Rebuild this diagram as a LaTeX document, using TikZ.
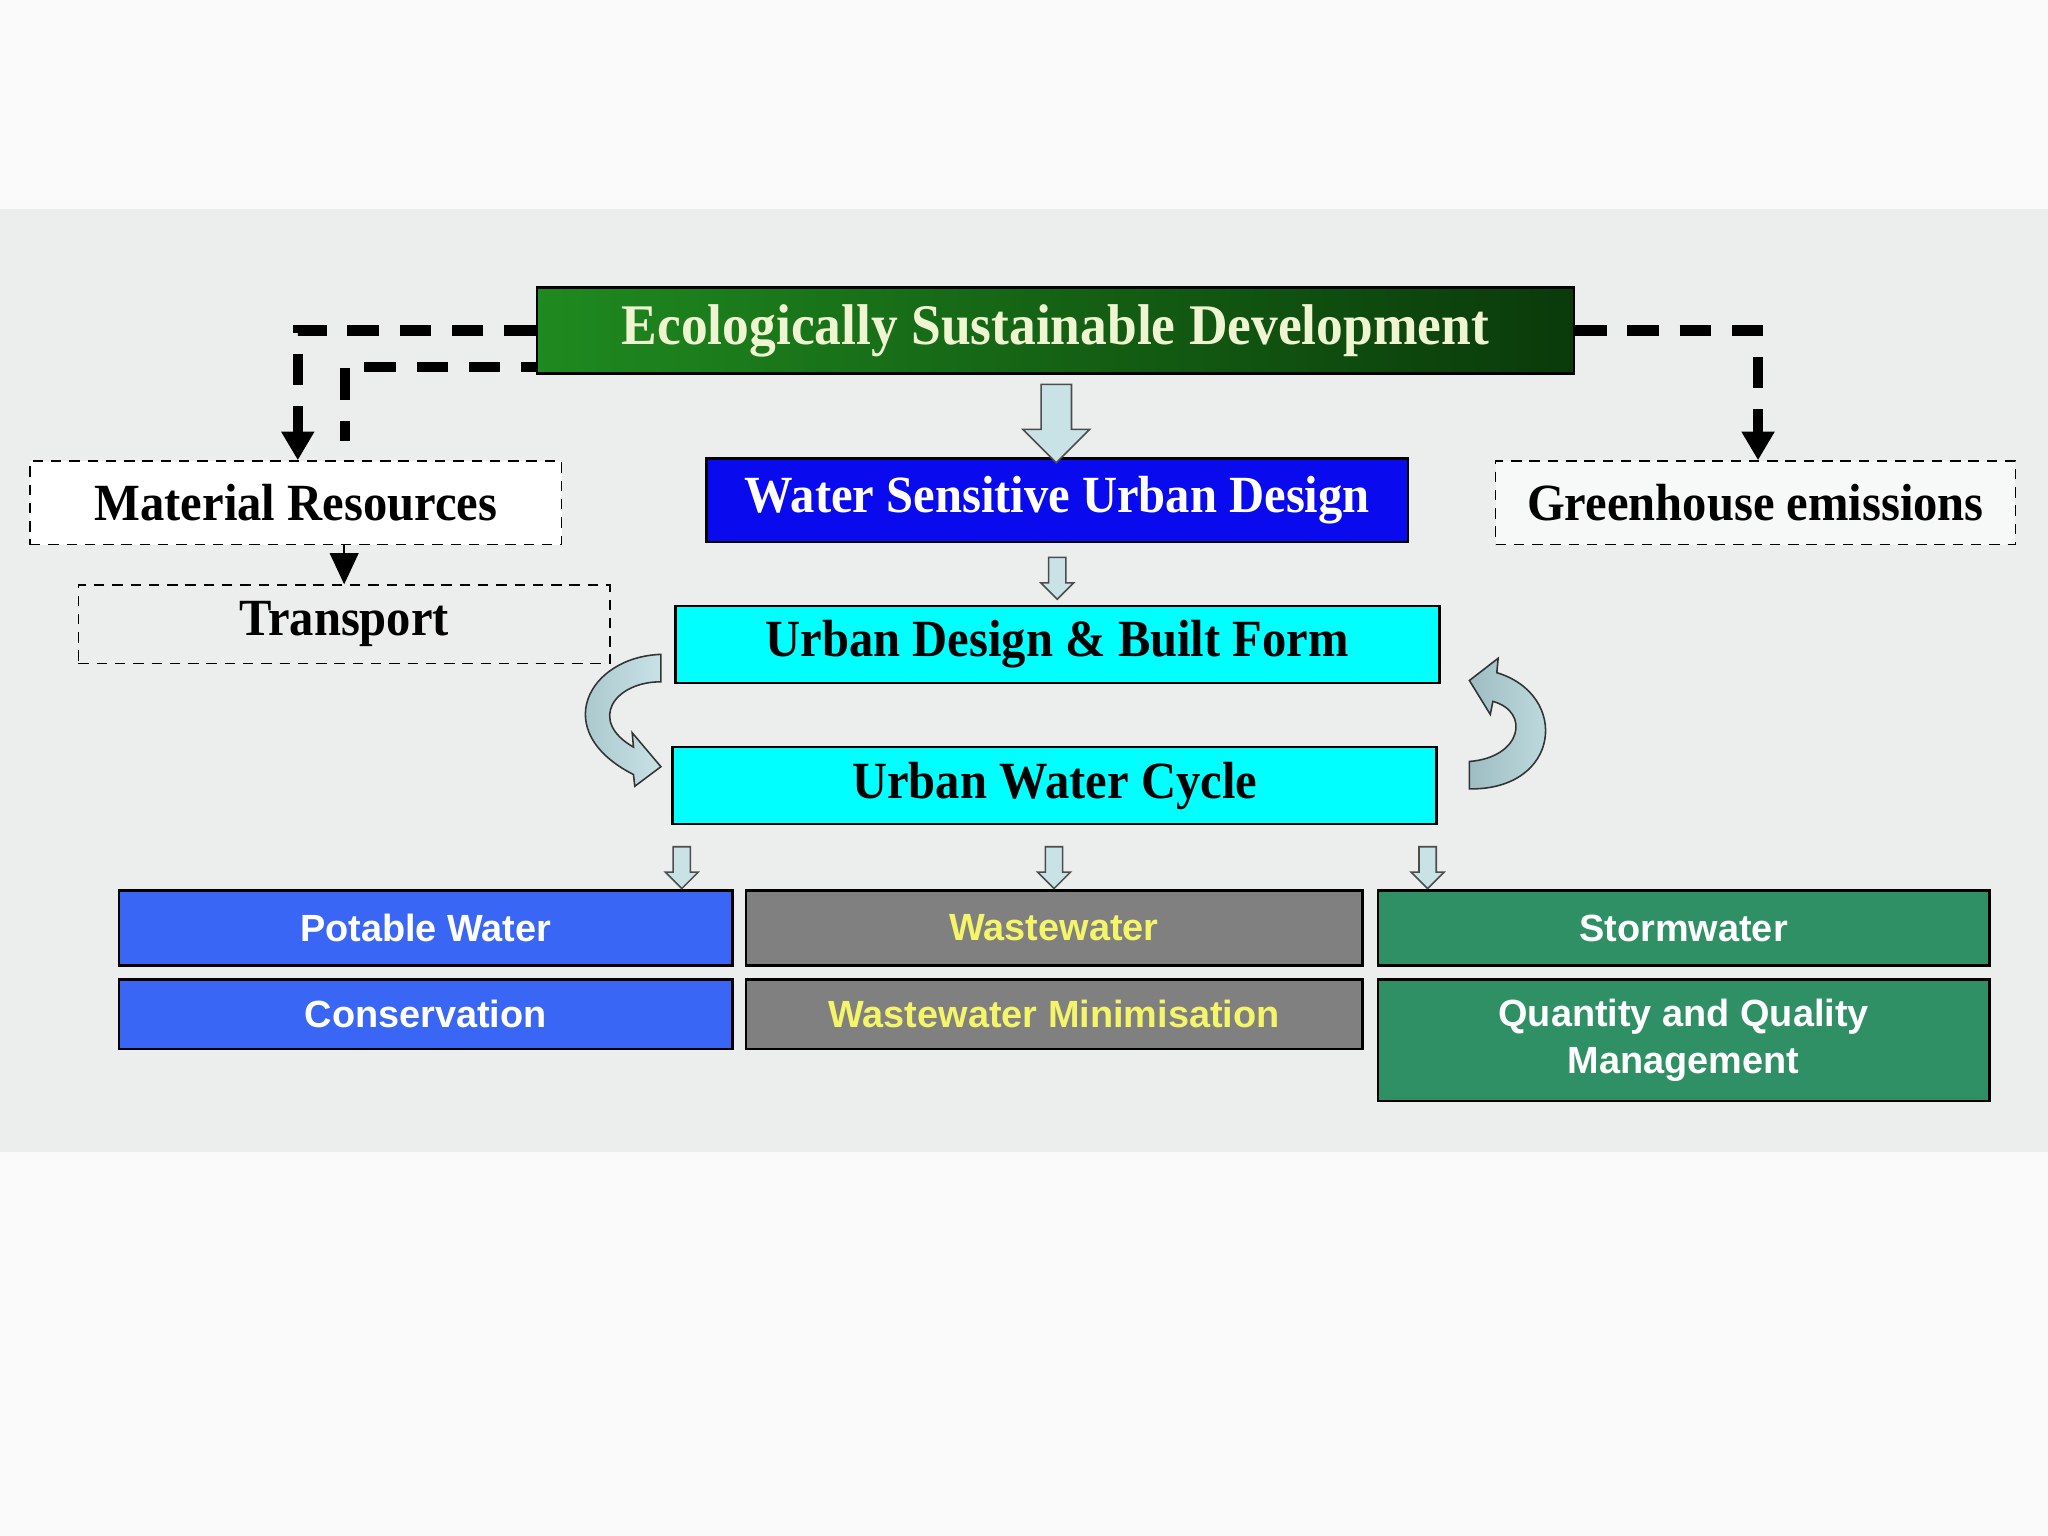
\documentclass[tikz,border=0pt]{standalone}
\usepackage{fontspec}
\setmainfont{Liberation Serif}
\newfontfamily\sansf{Liberation Sans}
\usetikzlibrary{shapes.arrows,arrows.meta,calc}
\definecolor{bgband}{HTML}{ECEEEE}
\definecolor{esdL}{HTML}{1F8A1F}
\definecolor{esdR}{HTML}{0A3A0A}
\definecolor{esdT}{HTML}{EEF5D0}
\definecolor{wsud}{HTML}{0A0AEE}
\definecolor{aqua}{HTML}{00FFFF}
\definecolor{potable}{HTML}{3A66F5}
\definecolor{wgrey}{HTML}{808080}
\definecolor{storm}{HTML}{2F9065}
\definecolor{wyellow}{HTML}{F5F56A}
\definecolor{arrfill}{HTML}{C8E2E6}
\definecolor{arrdark}{HTML}{9DBDC2}
\newcommand{\cond}[1]{\scalebox{0.93}[1]{#1}}
\tikzset{
  box/.style={draw=black, line width=1pt, inner sep=0pt, align=center},
  serif/.style={font=\fontsize{20}{24}\selectfont\bfseries},
  sansl/.style={font=\sansf\fontsize{14.5}{18}\selectfont\bfseries},
  dbox/.style={draw=black, dashed, line width=0.6pt, dash pattern=on 4pt off 3pt, inner sep=0pt, serif},
  bigarr/.style={single arrow, draw=black!70, fill=arrfill, line width=0.6pt, shape border rotate=270,
     minimum height=30pt, minimum width=25pt, inner sep=5.5pt, single arrow head extend=7pt},
  smallarr/.style={single arrow, draw=black!70, fill=arrfill, line width=0.6pt, shape border rotate=270,
     minimum height=16pt, minimum width=12pt, inner sep=3pt, single arrow head extend=3pt},
  thickdash/.style={line width=4pt, dash pattern=on 12pt off 8pt},
  curv/.style={draw=black!80, line width=0.6pt, left color=arrdark, right color=arrfill},
}
\begin{document}
\begin{tikzpicture}[x=0.5pt,y=-0.5pt]
\useasboundingbox (0,0) rectangle (1568,1176);
\fill[white!98!black] (0,0) rectangle (1568,1176);
\fill[bgband] (0,160) rectangle (1568,882);
% nodes
\node[box, minimum width=397pt, minimum height=33pt, left color=esdL, right color=esdR, text=esdT,
  font=\fontsize{22}{26}\selectfont\bfseries] (esd) at (808,253) {\cond{Ecologically Sustainable Development}};
\node[box, serif, minimum width=268.5pt, minimum height=32pt, fill=wsud, text=white] (wsud) at (809.5,383) {\cond{Water Sensitive Urban Design}};
\node[dbox, fill=white, minimum width=203.5pt, minimum height=32pt] (mr) at (226.5,385) {\cond{Material Resources}};
\node[dbox, fill=white!60!bgband, minimum width=199pt, minimum height=32pt] (gh) at (1344,385) {\cond{Greenhouse emissions}};
\node[dbox, minimum width=203.5pt, minimum height=30pt] (tr) at (263.5,478) {\cond{Transport}};
\node[box, serif, minimum width=292.5pt, minimum height=29.5pt, fill=aqua] (udbf) at (809.5,493.5) {\cond{Urban Design \& Built Form}};
\node[box, serif, minimum width=292.5pt, minimum height=29.5pt, fill=aqua] (uwc) at (807.5,601.5) {\cond{Urban Water Cycle}};
\node[box, sansl, minimum width=235pt, minimum height=28.5pt, fill=potable, text=white] (pw) at (326,710.5) {Potable Water};
\node[box, sansl, minimum width=235pt, minimum height=26.5pt, fill=potable, text=white] (cons) at (326,776.5) {Conservation};
\node[box, sansl, minimum width=236pt, minimum height=28.5pt, fill=wgrey, text=wyellow] (ww) at (807,710.5) {Wastewater};
\node[box, sansl, minimum width=236pt, minimum height=26.5pt, fill=wgrey, text=wyellow] (wwm) at (807,776.5) {Wastewater Minimisation};
\node[box, sansl, minimum width=234pt, minimum height=28.5pt, fill=storm, text=white] (sw) at (1289,710.5) {Stormwater};
\node[box, sansl, minimum width=234pt, minimum height=46.5pt, fill=storm, text=white] (qq) at (1289,796.5) {Quantity and Quality\\[0pt]Management};
% block arrows
\node[bigarr] (a1) at ($(esd.south)!0.5!(wsud.north)$) {};
\node[smallarr] (a2) at ($(wsud.south)!0.5!(udbf.north)$) {};
\node[smallarr] (a3) at (522,661) {};
\node[smallarr] (a4) at (807,661) {};
\node[smallarr] (a5) at (1093,661) {};
% dashed connectors
\coordinate (l1) at (228,253);
\coordinate (l2a) at (411,281);
\coordinate (l2b) at (264,281);
\coordinate (l2c) at (264,338);
\coordinate (r1) at (1346,253);
\draw[thickdash] (esd.west |- l1) -- (l1) -- ($(l1 |- mr.north)+(0,-22)$);
\draw[-{Triangle[width=12pt,length=11pt]}, line width=4pt] ($(l1 |- mr.north)+(0,-25)$) -- (l1 |- mr.north);
\draw[thickdash, dash phase=6pt] (l2a) -- (l2b) -- (l2c);
\draw[thickdash] (esd.east |- r1) -- (r1) -- ($(r1 |- gh.north)+(0,-22)$);
\draw[-{Triangle[width=12pt,length=11pt]}, line width=4pt] ($(r1 |- gh.north)+(0,-25)$) -- (r1 |- gh.north);
\draw[-{Triangle[width=11pt,length=12pt]}, line width=0.8pt] (mr.south -| tr.north) -- (tr.north);
% curved arrows
\path[curv] (506,501) .. controls (450,503) and (420,560) .. (485,593) -- (486,602) -- (506,587) -- (484,561) -- (485,572) .. controls (450,552) and (470,522) .. (506,522) -- cycle;
\path[curv] (1125,583) .. controls (1165,580) and (1172,545) .. (1143,537) -- (1141,547) -- (1125,521) -- (1147,504) -- (1146,515) .. controls (1202,532) and (1195,605) .. (1125,604) -- cycle;
\end{tikzpicture}
\end{document}
